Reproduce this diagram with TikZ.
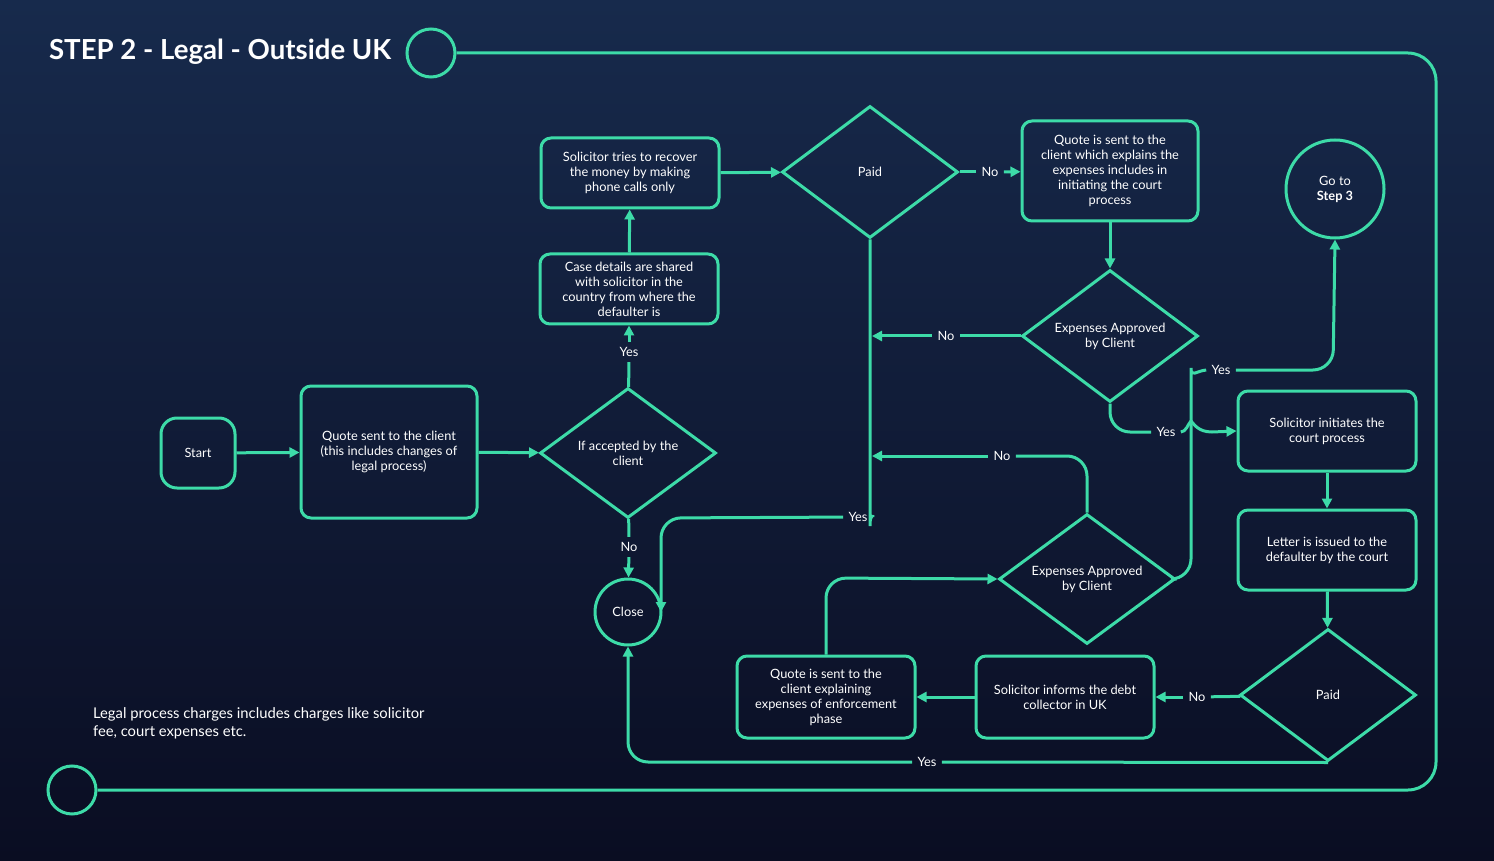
\documentclass[tikz,border=0pt]{standalone}
\usepackage{fontspec}
\setmainfont{Lato}
\usetikzlibrary{positioning,shapes.geometric,arrows.meta}
\definecolor{mygreen}{HTML}{3DDBA8}
\definecolor{bgtop}{HTML}{172A4C}
\definecolor{bgbot}{HTML}{0A0D22}

\tikzset{
  box/.style={draw=mygreen, line width=1.5pt, rounded corners=5pt, text=white, align=center, font=\fontsize{6.4}{7.5}\selectfont},
  dia/.style={diamond, aspect=1.35, inner sep=0pt, draw=mygreen, line width=1.5pt, text=white, align=center, font=\fontsize{6.4}{7.5}\selectfont},
  lbl/.style={text=white, inner sep=2.5pt, font=\fontsize{6.4}{7.5}\selectfont},
  conn/.style={draw=mygreen, line width=1.5pt, rounded corners=10pt},
  arr/.style={conn, -{Triangle[length=5pt,width=5pt]}}
}

\begin{document}
\begin{tikzpicture}[x=0.5pt,y=-0.5pt]

\useasboundingbox (0,0) rectangle (1494,861);
% background
\shade [top color=bgtop, bottom color=bgbot] (0,0) rectangle (1494,861);
% title and frame
\node [text=white, anchor=west, font=\fontsize{13.8}{15}\selectfont\bfseries] (title) at (42,52) {STEP 2 - Legal - Outside UK};
\node [circle, draw=mygreen, line width=1.5pt, minimum size=24pt] (top) at (431,53) {};
\node [circle, draw=mygreen, line width=1.5pt, minimum size=24pt] (bottom) at (72,790) {};
\draw [conn, rounded corners=14pt] (top.east) -- (1436,53) -- (1436,790) -- (bottom.east);
% note
\node [text=white, anchor=north west, align=left, font=\fontsize{7.4}{9}\selectfont] (note) at (86,701) {Legal process charges includes charges like solicitor\\fee, court expenses etc.};

% nodes
\node [box, rounded corners=8pt, minimum width=37pt, minimum height=35pt] (start) at (198,453) {Start};
\node [box, minimum width=88pt, minimum height=66pt] (quote) at (389,452) {Quote sent to the client\\(this includes changes of\\legal process)};
\node [dia, minimum width=88pt, minimum height=65pt] (accept) at (628,453) {If accepted by the\\client};
\node [box, minimum width=89pt, minimum height=35pt] (case) at (629,289) {Case details are shared\\with solicitor in the\\country from where the\\defaulter is};
\node [box, minimum width=89pt, minimum height=35pt] (phone) at (630,173) {Solicitor tries to recover\\the money by making\\phone calls only};
\node [dia, minimum width=88pt, minimum height=66pt] (paidA) at (870,172) {Paid};
\node [box, minimum width=88pt, minimum height=50pt] (quoteexp) at (1110,171) {Quote is sent to the\\client which explains the\\expenses includes in\\initiating the court\\process};
\node [dia, minimum width=88pt, minimum height=66pt] (approveA) at (1110,336) {Expenses Approved\\by Client};
\node [circle, draw=mygreen, line width=1.5pt, minimum size=49pt, text=white, align=center, font=\fontsize{6.4}{7.5}\selectfont] (step3) at (1335,189) {Go to\\\textbf{Step 3}};
\node [box, minimum width=89pt, minimum height=40pt] (initiate) at (1327,431) {Solicitor initiates the\\court process};
\node [box, minimum width=89pt, minimum height=40pt] (letter) at (1327,550) {Letter is issued to the\\defaulter by the court};
\node [dia, minimum width=88pt, minimum height=66pt] (paidB) at (1328,695) {Paid};
\node [box, minimum width=89pt, minimum height=41pt] (inform) at (1065,697) {Solicitor informs the debt\\collector in UK};
\node [box, minimum width=89pt, minimum height=41pt] (quoteenf) at (826,697) {Quote is sent to the\\client explaining\\expenses of enforcement\\phase};
\node [dia, minimum width=88pt, minimum height=65pt] (approveB) at (1087,579) {Expenses Approved\\by Client};
\node [circle, draw=mygreen, line width=1.5pt, minimum size=33pt, text=white, font=\fontsize{6.4}{7.5}\selectfont] (close) at (628,612) {Close};

% labels
\node [lbl] (yesA) at (629,352) {Yes};
\node [lbl] (noA) at (629,547) {No};
\node [lbl] (noB) at (990,172) {No};
\node [lbl] (noC) at (946,336) {No};
\node [lbl] (yesB) at (858,517) {Yes};
\node [lbl] (yesC) at (1166,432) {Yes};
\node [lbl] (yesD) at (1221,370) {Yes};
\node [lbl] (noD) at (1002,456) {No};
\node [lbl] (noE) at (1197,697) {No};
\node [lbl] (yesE) at (927,762) {Yes};
\coordinate (jA) at (872,336);
\coordinate (jB) at (872,456);

% connectors
\draw [arr] (start) -- (quote);
\draw [arr] (quote) -- (accept);
\draw [conn] (accept) -- (yesA);
\draw [arr] (yesA) -- (case);
\draw [arr] (case) -- (phone);
\draw [arr] (phone) -- (paidA);
\draw [conn] (paidA) -- (noB);
\draw [arr] (noB) -- (quoteexp);
\draw [arr] (quoteexp) -- (approveA);
\draw [conn] (approveA) -- (noC);
\draw [arr] (noC) -- (jA);
\draw [conn] (accept) -- (noA);
\draw [arr] (noA) -- (close);
\draw [conn] (paidA.south) -- (870,506) .. controls (870,512) and (874,517) .. (yesB.east);
\draw [arr] (yesB) -- (661,518) -- (661,612);
\draw [conn] (approveA.south) -- (1110,432) -- (yesC);
\draw [conn] (yesC.east) .. controls (1186,432) and (1188,424) .. (1191,421);
\draw [arr, rounded corners=0pt] (1191,421) .. controls (1194,424) and (1198,432) .. (1212,432) -- (initiate.west);
\draw [conn] (approveB.east) -- (1191,579) -- (1191,388) .. controls (1191,378) and (1196,371) .. (yesD.west);
\draw [arr] (yesD) -- (1333,370) -- (step3.south);
\draw [arr] (initiate) -- (letter);
\draw [arr] (letter) -- (paidB);
\draw [conn] (paidB) -- (noE);
\draw [arr] (noE) -- (inform);
\draw [arr] (inform) -- (quoteenf);
\draw [arr] (quoteenf.north) -- (826,578) -- (approveB.west);
\draw [conn] (approveB.north) -- (1087,456) -- (noD);
\draw [arr] (noD) -- (jB);
\draw [conn] (paidB.south) -- (yesE);
\draw [arr] (yesE) -- (628,762) -- (close.south);

\end{tikzpicture}
\end{document}
